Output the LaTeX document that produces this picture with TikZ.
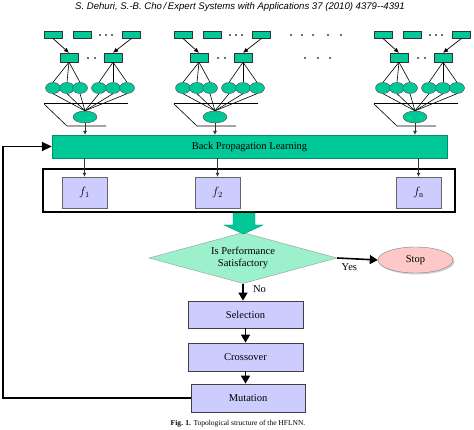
\documentclass[tikz,border=0pt]{standalone}
\usepackage{fontspec}
\setmainfont{Liberation Serif}
\newfontfamily\headfont{Liberation Sans}
\usetikzlibrary{arrows.meta,positioning,shapes.geometric,shadows}
\definecolor{nnteal}{HTML}{00C896}
\definecolor{nntealdark}{HTML}{008F6B}
\definecolor{gapale}{HTML}{9CF0CC}
\definecolor{galav}{HTML}{CCCCFF}
\definecolor{stoppink}{HTML}{FFC8C8}
\tikzset{
  every node/.style={font=\fontsize{10.5}{12}\selectfont},
  unit/.style={draw=black!80,fill=nnteal,minimum width=18pt,minimum height=7.5pt,inner sep=0pt},
  hidunit/.style={unit,minimum height=9pt},
  neuron/.style={ellipse,draw=black!70,fill=nnteal,minimum width=15pt,minimum height=11pt,inner sep=0pt},
  outneuron/.style={ellipse,draw=black!70,fill=nnteal,minimum width=24pt,minimum height=12pt,inner sep=0pt},
  link/.style={black,line width=0.6pt},
  inarrow/.style={-{Latex[length=5pt,width=4.5pt]},black,line width=0.7pt},
  smallarrow/.style={-{Latex[length=4pt,width=4pt]},black!80,line width=0.6pt},
  flow/.style={-{Triangle[length=8pt,width=9pt]},black,line width=1.6pt},
  feed/.style={-{Triangle[length=10pt,width=9pt]},black,line width=1.8pt},
  fbox/.style={draw=black!60,fill=galav,minimum width=45pt,minimum height=31pt,inner sep=0pt,font=\large},
  stepbox/.style={draw=black!75,fill=galav,minimum width=115pt,minimum height=27pt,inner sep=0pt,line width=0.8pt}
}
\begin{document}
\begin{tikzpicture}[x=1pt,y=-1pt]
\useasboundingbox (0,0) rectangle (474,430);
% running head
\node[font=\headfont\itshape\fontsize{9.6}{11}\selectfont] (head) at (240,7)
  {S. Dehuri, S.-B. Cho\,/\,Expert Systems with Applications 37 (2010) 4379--4391};
% learning bar and fitness values
\node[draw=nntealdark,fill=nnteal,minimum width=395pt,minimum height=23pt,inner sep=0pt] (bpl) at (249.5,146.5) {Back Propagation Learning};
\node[draw=black,line width=1.6pt,minimum width=412pt,minimum height=43pt,inner sep=0pt] (frame) at (249,190.5) {};
\node[fbox] (f1) at (84.5,192.5) {$f_1$};
\node[fbox] (f2) at (217.5,192.5) {$f_2$};
\node[fbox] (fn) at (418.5,192.5) {$f_{\mathrm{n}}$};
\foreach \f in {f1,f2,fn}{\draw[smallarrow] (\f |- bpl.south) -- (\f.north);}
% the three networks
\foreach \g/\dx in {a/0,b/130,c/330}{
\begin{scope}[shift={(\dx,0)}]
\node[unit] (\g-in1) at (53,34.5) {};
\node[unit] (\g-in2) at (82,34.5) {};
\node[unit] (\g-in3) at (131.5,34.5) {};
\foreach \x in {100,106,112}{\fill[black!75] (\x,35) circle[radius=1.2pt];}
\node[hidunit] (\g-hid1) at (69,57.5) {};
\node[hidunit] (\g-hid2) at (113,57.5) {};
\foreach \x in {88,95}{\fill[black!75] (\x,58) circle[radius=1.2pt];}
\draw[inarrow] (\g-in1.south) -- (\g-hid1.north);
\draw[inarrow] (\g-in3.south) -- (\g-hid2.north);
\foreach \i/\x in {1/53,2/67,3/80,4/99,5/113,6/127}{\node[neuron] (\g-e\i) at (\x,88) {};}
\node[outneuron] (\g-out) at (85,117) {};
\foreach \i in {1,2,3}{\draw[link] (\g-hid1.south) -- (\g-e\i.north);}
\foreach \i in {4,5,6}{\draw[link] (\g-hid2.south) -- (\g-e\i.north);}
\foreach \i in {1,...,6}{\draw[link] (\g-e\i.south) -- (\g-out.north);}
\draw[link] (44,103) -- (128,103);
\draw[link] (44,104) -- (67,126) -- (106,126);
\draw[smallarrow] (\g-out.south) -- (\g-out.south |- bpl.north);
\end{scope}
}
\foreach \x in {291,302,313,328,341}{\fill[black!75] (\x,35) circle[radius=1.2pt];}
\foreach \x in {305,318,330}{\fill[black!75] (\x,58) circle[radius=1.2pt];}
% genetic loop
\node[diamond,aspect=3.7,draw=black!40,fill=gapale,minimum width=188pt,minimum height=51pt,inner sep=0pt,align=center] (perf) at (243,258) {Is Performance\\Satisfactory};
\fill[nnteal,draw=nntealdark,line width=0.4pt] (233,212) -- (255,212) -- (255,225) -- (263,225) -- (243.5,234) -- (224,225) -- (233,225) -- cycle;
\draw[black,line width=1.6pt] (232,212.5) -- (256,212.5);
\node[ellipse,draw=black!50,fill=stoppink,minimum width=75pt,minimum height=26pt,inner sep=0pt,drop shadow={shadow xshift=1.5pt,shadow yshift=-1.5pt,fill=black!35}] (stop) at (415.5,260) {Stop};
\node[stepbox] (sel) at (245.5,314.5) {Selection};
\node[stepbox,minimum height=28pt] (cross) at (245.5,357) {Crossover};
\node[stepbox,minimum width=114pt,minimum height=28pt] (mut) at (248,398) {Mutation};
\draw[flow] (perf.east) -- (stop.west) node[pos=0.3,below=1pt] {Yes};
\draw[flow] (perf.south) -- (perf.south |- sel.north) node[pos=0.3,right=6pt] {No};
\draw[flow] (sel.south) -- (cross.north);
\draw[flow] (cross.south) -- (cross.south |- mut.north);
\draw[feed] (mut.west) -- ++(-188,0) |- (bpl.west);
% caption
\node[font=\fontsize{7.5}{9}\selectfont] (cap) at (238,424) {\textbf{Fig. 1.} Topological structure of the HFLNN.};
\end{tikzpicture}
\end{document}
